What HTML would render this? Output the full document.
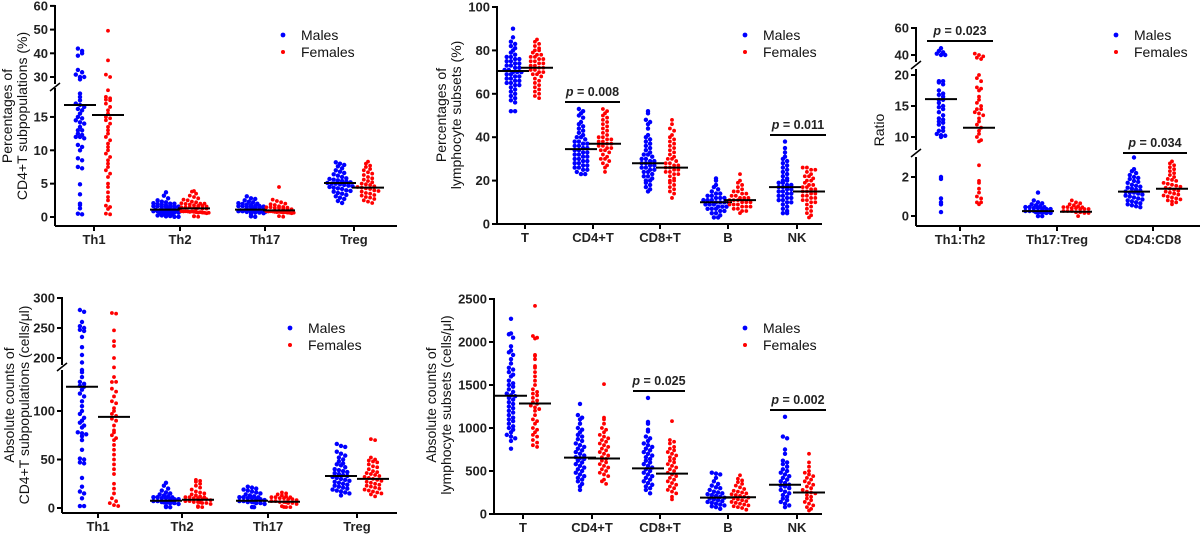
<!DOCTYPE html>
<html><head><meta charset="utf-8"><style>
html,body{margin:0;padding:0;background:#fff}
svg{display:block;font-family:"Liberation Sans",Arial,sans-serif}
</style></head><body>
<svg id="c" width="1200" height="535" viewBox="0 0 1200 535"></svg>
<script>
// ---------- DATA ----------
const p1Cats=["Th1","Th2","Th17","Treg"];
const p1M=[[42,41,39,40,33,32,31,30,30,29,18.5,18,17.5,17,16.8,16.5,16.2,16,15.5,15,14.8,14.5,14.2,14,13.5,13,13,12.5,12.3,12,12,11.8,10.8,10.5,10,8.8,8.5,7.5,7.3,4.9,3.4,2,1.8,1.3,0.5,0.4],
[3.7,3.2,2.8,2.5,2.3,2.2,2,2,1.9,1.8,1.7,1.6,1.5,1.5,1.4,1.4,1.3,1.3,1.2,1.2,1.2,1.1,1.1,1.1,1,1,1,1,0.9,0.9,0.9,0.8,0.8,0.8,0.7,0.7,0.7,0.6,0.6,0.5,0.5,0.4,0.4,0.3,0.3,0.2,0.2,0.1],
[3.1,2.8,2.7,2.5,2.3,2.2,2,1.9,1.8,1.7,1.6,1.5,1.5,1.4,1.4,1.3,1.3,1.2,1.2,1.1,1.1,1.1,1,1,1,0.9,0.9,0.9,0.8,0.8,0.7,0.7,0.6,0.6,0.5,0.5,0.4,0.3,0.2,0.1],
[8.2,8,7.8,7.6,7.3,7,6.8,6.6,6.4,6.2,6,5.8,5.7,5.6,5.5,5.4,5.3,5.2,5.1,5,5,4.9,4.8,4.7,4.6,4.5,4.4,4.3,4.2,4,3.9,3.8,3.6,3.5,3.3,3.1,2.9,2.7,2.4,2.1]];
const p1F=[[49.5,37,31,30,19,18,17.8,17.6,17.5,17,16.5,16,15.5,15,14.8,14.5,14,13.5,13,12.5,12,11.5,11,10.5,10,9.5,9,8.5,8,7.5,7,6.5,6,5,4.5,3.7,3,2.5,1.7,1.5,1.2,0.5,0.4],
[3.9,3.8,3.5,3.2,3,2.8,2.6,2.5,2.3,2.2,2,2,1.9,1.8,1.7,1.6,1.5,1.5,1.4,1.4,1.3,1.3,1.3,1.2,1.2,1.1,1.1,1,1,1,0.9,0.9,0.8,0.8,0.7,0.7,0.6,0.6,0.5,0.5,0.4,0.3,0.2,0.1],
[4.5,2.6,2.4,2.2,2,1.9,1.8,1.6,1.5,1.4,1.3,1.3,1.2,1.2,1.1,1.1,1,1,1,0.9,0.9,0.9,0.8,0.8,0.7,0.7,0.6,0.6,0.5,0.5,0.4,0.3,0.2],
[8.3,8,7.7,7.5,7.2,7,6.7,6.5,6.3,6,5.8,5.6,5.4,5.2,5,4.9,4.8,4.6,4.5,4.4,4.3,4.2,4,3.9,3.8,3.6,3.5,3.3,3.2,3,2.9,2.7,2.5,2.3,2.1]];
const p1MedM=[16.8,1.1,1.1,5.1], p1MedF=[15.3,1.3,1.0,4.4];

const p2Cats=["T","CD4+T","CD8+T","B","NK"];
const p2M=[[90,86,84,83,82,81,80,79,78,77,77,76,76,75,75,74,74,73,73,72,72,71,71,70,70,70,69,69,68,68,67,67,66,66,65,65,64,64,63,62,61,60,59,58,57,56,52,52],
[53,52,51,50,49,47,46,45,44,43,42,41,40,40,39,38,38,37,37,36,36,35,35,34,34,33,33,32,32,31,31,30,30,29,29,28,28,27,27,26,26,25,25,24,23,23],
[52,51,48,47,46,44,41,40,39,38,37,36,35,34,33,32,32,31,30,30,29,29,28,28,27,27,26,26,25,25,24,24,23,22,22,21,20,20,19,18,17,16,15],
[21,20,18,17,16,15,14,14,13,13,12,12,12,11,11,11,10,10,10,10,9,9,9,8,8,8,7,7,7,6,6,5,5,4,3,3],
[38,35,33,31,30,29,28,27,26,25,24,23,22,21,20,20,19,19,18,18,17,17,16,16,15,15,14,14,13,13,12,12,11,11,10,10,9,8,7,6,5,5]];
const p2F=[[85,84,83,82,81,80,80,79,78,78,77,77,76,76,75,75,74,74,73,73,72,72,71,71,70,70,69,69,68,67,66,65,64,63,62,61,60,59,58],
[53,52,51,50,49,48,47,46,45,44,43,42,41,40,40,39,39,38,38,37,37,36,36,35,35,34,34,33,32,31,30,30,29,28,27,26,24],
[48,46,44,43,41,40,39,38,37,36,35,34,33,32,31,30,30,29,28,28,27,27,26,26,25,25,24,24,23,23,22,21,20,20,19,18,17,16,15,14,12],
[23,20,19,18,17,16,15,15,14,14,13,13,12,12,12,11,11,11,10,10,10,9,9,9,8,8,8,7,7,6,6,5],
[26,26,25,25,24,23,22,22,21,20,20,19,18,18,17,17,16,16,15,15,14,14,13,13,12,12,11,11,10,10,9,8,7,6,5,4,3]];
const p2MedM=[70.5,34.5,28,10,17], p2MedF=[72,37,26,11,15];

const p3Cats=["Th1:Th2","Th17:Treg","CD4:CD8"];
const p3M=[[45,43,42,41,40,40,19,19,18.8,18.5,17.5,17,16.8,16.5,16,16,15.5,15,14.8,14.5,14,13.5,13,12.8,12.5,12.3,12,11.5,11,11,10.5,10.3,10.2,10,2,1.9,0.9,0.7,0.6,0.2],
[1.2,0.8,0.7,0.65,0.6,0.55,0.5,0.45,0.4,0.4,0.35,0.35,0.3,0.3,0.3,0.25,0.25,0.25,0.2,0.2,0.2,0.15,0.15,0.1,0.1,0.05,0.05],
[3,2.4,2.3,2.2,2.1,2,1.95,1.9,1.8,1.75,1.7,1.6,1.55,1.5,1.45,1.4,1.35,1.3,1.25,1.2,1.2,1.15,1.1,1.05,1,0.95,0.9,0.85,0.8,0.75,0.7,0.65,0.6,0.55,0.5,0.45]];
const p3F=[[41,40,39,38,37,20,19.5,19,18,17.8,17.5,16.5,16,15.5,15,14.5,14.5,14,13.8,13.5,13,12.5,12,11.5,11,10.5,10,9.5,9.3,2.6,1.8,1.7,1.4,1.2,1,0.9,0.7,0.7,0.6],
[0.8,0.7,0.65,0.6,0.55,0.5,0.45,0.4,0.4,0.35,0.35,0.3,0.3,0.3,0.25,0.25,0.2,0.2,0.2,0.15,0.15,0.1,0.1,0.05],
[2.8,2.7,2.6,2.5,2.4,2.3,2.2,2.1,2,1.9,1.85,1.8,1.7,1.65,1.6,1.55,1.5,1.45,1.4,1.35,1.3,1.25,1.2,1.15,1.1,1.05,1,0.95,0.9,0.85,0.8,0.75,0.7,0.6]];
const p3MedM=[16.1,0.25,1.25], p3MedF=[11.5,0.22,1.4];

const p4Cats=["Th1","Th2","Th17","Treg"];
const p4M=[[280,277,260,253,250,247,245,235,218,205,180,150,140,135,130,128,126,125,122,118,115,110,105,100,97,93,90,88,85,83,78,77,76,74,70,60,51,50,47,46,31,22,17,15,10,2,2],
[26,23,20,18,16,15,14,13,12,11,10,10,9,9,8,8,8,7,7,7,6,6,5,5,4,4,3,3,2,1],
[22,21,20,19,18,17,16,15,14,13,12,11,10,10,9,9,8,8,7,7,6,6,5,5,4,4,3,2,1],
[66,64,63,58,56,54,52,50,48,46,45,44,42,40,39,38,37,36,35,34,33,32,31,30,29,28,27,26,25,24,23,22,21,20,19,18,17,16,15,13]];
const p4F=[[275,274,246,228,220,200,160,145,135,130,123,120,115,110,108,103,100,97,95,92,90,85,80,78,75,72,70,65,60,55,50,45,40,35,25,20,15,10,7,5,3,2],
[29,28,27,25,23,21,19,17,16,15,14,13,12,11,10,10,9,9,8,8,7,7,6,6,5,5,4,4,3,3,2,1],
[16,15,14,13,12,11,10,10,9,9,8,8,7,7,6,6,5,5,4,4,3,3,2,2,1],
[71,70,52,50,49,48,47,45,43,42,40,38,37,36,35,34,33,32,31,30,29,28,27,26,25,24,23,22,21,20,19,18,17,16,15,14,12]];
const p4MedM=[125,7.5,7.5,33], p4MedF=[94,8.5,6.5,30];

const p5Cats=["T","CD4+T","CD8+T","B","NK"];
const p5M=[[2270,2100,2090,2050,1950,1900,1880,1850,1800,1750,1700,1680,1650,1620,1600,1550,1520,1500,1480,1450,1420,1400,1380,1370,1350,1330,1300,1280,1250,1230,1200,1180,1150,1120,1100,1080,1050,1020,1000,980,950,920,900,880,850,760],
[1280,1150,1120,1100,1050,1000,980,950,920,900,870,850,820,800,780,760,740,720,700,680,660,650,640,620,600,580,560,540,520,500,480,460,440,420,400,380,350,320,280],
[1350,1070,1050,980,960,900,880,850,820,800,780,760,740,720,700,680,660,640,620,600,580,560,540,520,500,480,460,440,420,400,380,360,340,320,300,280,240],
[480,470,460,420,380,350,330,310,300,280,260,250,240,230,220,210,200,190,180,170,160,150,140,130,120,110,100,90,80,60],
[1130,900,880,750,700,620,600,580,550,520,500,480,460,440,420,400,380,360,340,330,320,300,280,260,240,220,200,180,160,140,120,100,80]];
const p5F=[[2420,2070,2050,2040,1850,1840,1800,1720,1700,1650,1600,1550,1500,1450,1420,1400,1380,1350,1320,1300,1280,1260,1240,1220,1200,1150,1100,1080,1050,1000,980,950,920,900,860,830,800,780],
[1510,1120,1100,1050,1000,980,950,920,900,880,860,840,820,800,780,760,740,720,700,680,660,640,620,600,580,560,540,520,500,480,460,440,400,380,350],
[1080,860,840,820,780,760,740,720,700,680,660,640,620,600,580,560,540,520,500,480,460,440,420,400,380,360,340,320,300,280,260,240,200,170],
[450,410,390,370,350,330,310,290,270,260,250,240,230,220,210,200,190,180,170,160,150,140,130,120,110,100,90,80,70,50],
[700,600,550,500,480,460,440,420,400,380,360,340,320,300,280,260,250,240,220,200,180,160,140,120,100,80,60,40]];
const p5MedM=[1375,655,530,190,340], p5MedF=[1285,645,470,195,250];

const p1Ticks=[0,5,10,15,30,40,50,60];
const p2Ticks=[0,20,40,60,80,100];
const p3Ticks=[0,2,10,15,20,40,60];
const p4Ticks=[0,50,100,200,250,300];
const p5Ticks=[0,500,1000,1500,2000,2500];

// ---------- DRAW ----------
const NS="http://www.w3.org/2000/svg", svg=document.getElementById('c');
function mk(tag,a,parent){const e=document.createElementNS(NS,tag);for(const k in a)e.setAttribute(k,a[k]);(parent||svg).appendChild(e);return e;}
function txt(s,a,parent){const e=mk('text',a,parent);e.textContent=s;return e;}
function lin(x1,y1,x2,y2,w,parent){return mk('line',{x1,y1,x2,y2,stroke:'#000','stroke-width':w||2},parent);}

function panel(cfg){
  const g=mk('g',{});
  
  
  const ax=cfg.ax, y=cfg.y;
  cfg.segs.forEach(s=>{const l=lin(ax,s[0],ax,s[1],2,g);});
  cfg.breaks.forEach(b=>{lin(ax-5,b+4,ax+5,b-4,1.5,g);});
  const xl=lin(ax,cfg.xy,cfg.xend,cfg.xy,2,g);
  
  
  cfg.ticks.forEach(t=>{
    const ty=y(t);
    lin(ax-5,ty,ax,ty,2,g);
    const e=txt(String(t),{x:ax-7,y:ty+4.5,'text-anchor':'end','font-size':13,'font-weight':'bold',fill:'#222'},g);
    
    
  });
  const tg=mk('text',{transform:`translate(${cfg.tx},${cfg.ty}) rotate(-90)`,'text-anchor':'middle','font-size':14,fill:'#111'},g);
  
  
  cfg.title.forEach((l,i)=>{const ts=mk('tspan',{x:0,y:i*15},tg);ts.textContent=l;});
  cfg.cats.forEach((c,i)=>{
    const cx=cfg.cx[i];
    lin(cx,cfg.xy,cx,cfg.xy+5,2,g);
    const e=txt(c,{x:cx,y:cfg.xy+18,'text-anchor':'middle','font-size':13,'font-weight':'bold',fill:'#222'},g);
    
    
    [[cfg.M[i],cfg.medM[i],-cfg.off,'#0000ff',2.2,'male'],[cfg.F[i],cfg.medF[i],cfg.off,'#ff0000',1.9,'female']].forEach(([vals,med,o,col,r,sx])=>{
      const gx=cx+o;
      const bins={};
      vals.forEach(v=>{const py=y(v);const k=Math.round(py/4.2);(bins[k]=bins[k]||[]).push(py);});
      const MAXR=7;
      for(const k in bins){const arr=bins[k];
        const rows=Math.ceil(arr.length/MAXR);
        arr.forEach((py,j)=>{
          const ri=Math.floor(j/MAXR), inRow=Math.min(MAXR,arr.length-ri*MAXR), ci=j%MAXR;
          const dx=(ci-(inRow-1)/2)*4.2+(ri%2?2.1:0);
          const dy=(ri-(rows-1)/2)*2.2;
          const d=mk('circle',{cx:gx+dx,cy:py+dy,r,fill:col},g);
          
          
        });}
      const ml=lin(gx-16,y(med),gx+16,y(med),2,g);
      
      
    });
  });
  (cfg.p||[]).forEach(p=>{
    lin(p[0],p[2],p[1],p[2],2,g);
    const e=mk('text',{x:(p[0]+p[1])/2,y:p[2]-6,'text-anchor':'middle','font-size':12.5,'font-weight':'bold',fill:'#222'},g);
    
    
    const a=mk('tspan',{'font-style':'italic'},e);a.textContent='p';
    const b=mk('tspan',{},e);b.textContent=' = '+p[3];
  });
  const lg=mk('g',{},g);
  
  
  mk('circle',{cx:cfg.lx,cy:cfg.ly-5,r:2.4,fill:'#0000ff'},lg);
  txt('Males',{x:cfg.lx+18,y:cfg.ly,'font-size':14,fill:'#111'},lg);
  mk('circle',{cx:cfg.lx,cy:cfg.ly+12,r:2,fill:'#ff0000'},lg);
  txt('Females',{x:cfg.lx+18,y:cfg.ly+17,'font-size':14,fill:'#111'},lg);
}

panel({name:'panel-cd4-percent',ax:55,xy:226,xend:397,
  y:v=>v<=20?217-v*6.67:77-(v-30)*2.37,
  segs:[[226,88],[84,5]],breaks:[87],ticks:p1Ticks,
  title:['Percentages of','CD4+T subpopulations (%)'],tx:12,ty:116,
  cats:p1Cats,cx:[94,180,265,354],off:14,M:p1M,F:p1F,medM:p1MedM,medF:p1MedF,lx:283,ly:40});
panel({name:'panel-lymphocyte-percent',ax:497,xy:224,xend:822,
  y:v=>224-v*2.17,segs:[[224,6]],breaks:[],ticks:p2Ticks,
  title:['Percentages of','lymphocyte subsets (%)'],tx:446,ty:115,
  cats:p2Cats,cx:[525,593,660,728,797],off:12,M:p2M,F:p2F,medM:p2MedM,medF:p2MedF,
  p:[[565,620,102,'0.008'],[770,826,135,'0.011']],lx:745,ly:40});
panel({name:'panel-ratio',ax:916,xy:226,xend:1200,
  y:v=>v<=4?216-v*19.5:(v<=25?137-(v-10)*6.2:55-(v-40)*1.35),
  segs:[[226,157],[150,69],[62,27]],breaks:[153,65],ticks:p3Ticks,
  title:['Ratio'],tx:884,ty:130,
  cats:p3Cats,cx:[960,1057,1153],off:19,M:p3M,F:p3F,medM:p3MedM,medF:p3MedF,
  p:[[927,993,41,'0.023'],[1123,1187,153,'0.034']],lx:1116,ly:40});
panel({name:'panel-cd4-counts',ax:62,xy:513,xend:397,
  y:v=>v<=150?508-v*0.97:358-(v-200)*0.6,
  segs:[[513,370],[365,297]],breaks:[367],ticks:p4Ticks,
  title:['Absolute counts of','CD4+T subpopulations (cells/μl)'],tx:14,ty:405,
  cats:p4Cats,cx:[98,182,268,357],off:16,M:p4M,F:p4F,medM:p4MedM,medF:p4MedF,lx:290,ly:333});
panel({name:'panel-lymphocyte-counts',ax:494,xy:514,xend:822,
  y:v=>514-v*0.086,segs:[[514,298]],breaks:[],ticks:p5Ticks,
  title:['Absolute counts of','lymphocyte subsets (cells/μl)'],tx:436,ty:405,
  cats:p5Cats,cx:[523,592,660,728,797],off:12,M:p5M,F:p5F,medM:p5MedM,medF:p5MedF,
  p:[[633,685,391,'0.025'],[770,826,410,'0.002']],lx:745,ly:333});
</script>
</body></html>
